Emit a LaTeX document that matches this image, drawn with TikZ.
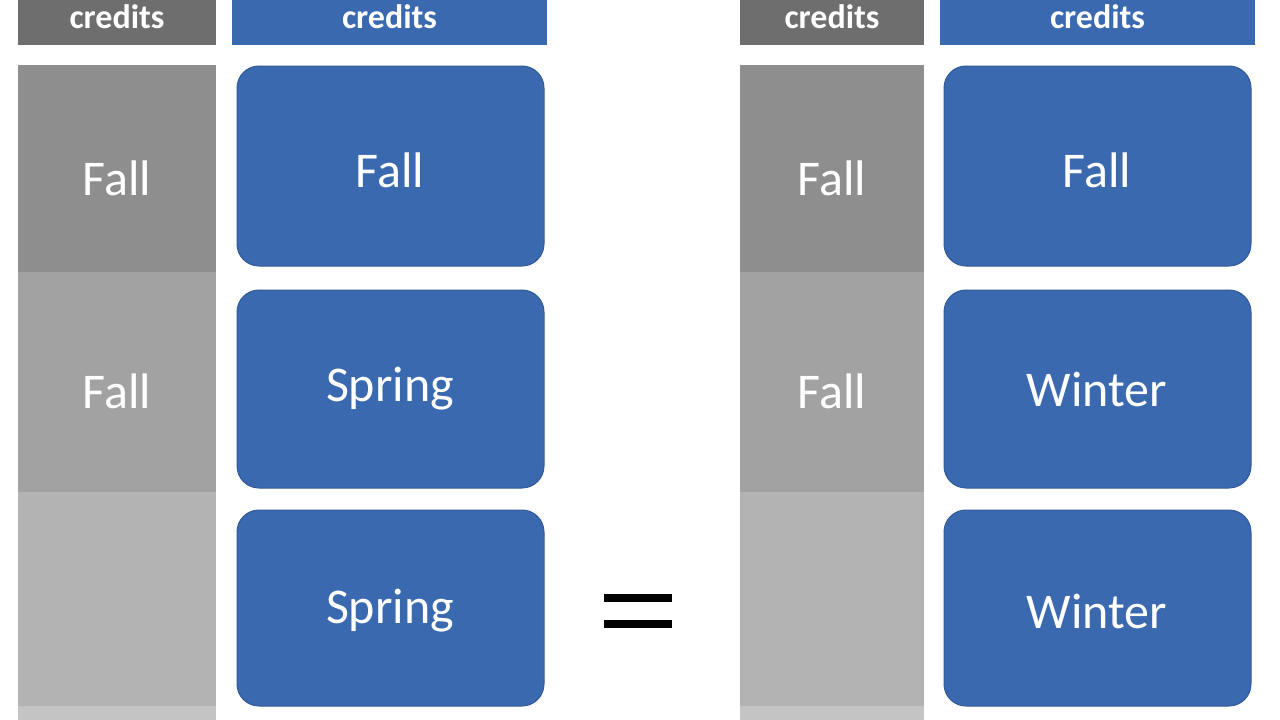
\documentclass[tikz,border=0pt]{standalone}
\usepackage{fontspec}
\setmainfont{Carlito}
\definecolor{hgray}{HTML}{6E6E6E}
\definecolor{hblue}{HTML}{3A69B0}
\definecolor{g1}{HTML}{8E8E8E}
\definecolor{g2}{HTML}{A2A2A2}
\definecolor{g3}{HTML}{B3B3B3}
\definecolor{g4}{HTML}{C4C4C4}
\begin{document}
\begin{tikzpicture}[x=1pt,y=-1pt,
  hdr/.style={text=white,font=\fontsize{34}{34}\selectfont\bfseries},
  lbl/.style={text=white,font=\fontsize{50}{50}\selectfont},
  bbox/.style={fill=hblue,draw=hblue!85!black,line width=1pt,rounded corners=22pt}]
\useasboundingbox (0,0) rectangle (1280,720);
\foreach \xa/\xb/\ya/\yb/\s in {18/216/-5/45/L, 740/924/-5/45/R}{
  \fill[hgray] (\xa,\ya) rectangle (\xb,\yb);
  \node[hdr] (hg\s) at ({(\xa+\xb)/2},17) {credits};
  \fill[g1] (\xa,65) rectangle (\xb,272);
  \fill[g2] (\xa,272) rectangle (\xb,492);
  \fill[g3] (\xa,492) rectangle (\xb,706);
  \fill[g4] (\xa,706) rectangle (\xb,720);
  \node[lbl] (f1\s) at ({(\xa+\xb)/2},178) {Fall};
  \node[lbl] (f2\s) at ({(\xa+\xb)/2},391) {Fall};
}
\foreach \xa/\xb/\s in {232/547/L, 940/1255/R}{
  \fill[hblue] (\xa,-5) rectangle (\xb,45);
  \node[hdr] (hb\s) at ({(\xa+\xb)/2},17) {credits};
}
\draw[bbox] (237,66) rectangle (544,266);
\draw[bbox] (237,290) rectangle (544,488);
\draw[bbox] (237,510) rectangle (544,706);
\draw[bbox] (944,66) rectangle (1251,266);
\draw[bbox] (944,290) rectangle (1251,488);
\draw[bbox] (944,510) rectangle (1251,706);
\node[lbl] (a1) at (390,170) {Fall};
\node[lbl] (a2) at (390,389) {Spring};
\node[lbl] (a3) at (390,611) {Spring};
\node[lbl] (b1) at (1097,170) {Fall};
\node[lbl] (b2) at (1097,389) {Winter};
\node[lbl] (b3) at (1097,611) {Winter};
\fill[black] (604,594) rectangle (672,602);
\fill[black] (604,620) rectangle (672,628);
\end{tikzpicture}
\end{document}
